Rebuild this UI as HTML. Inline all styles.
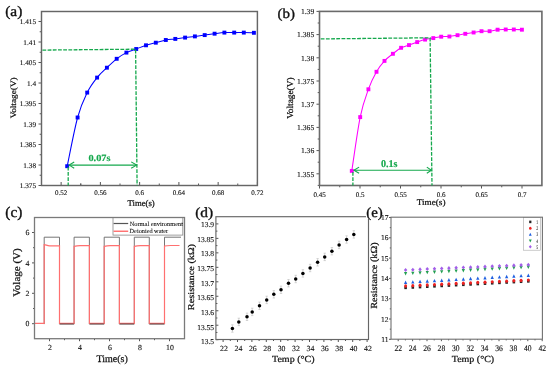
<!DOCTYPE html>
<html><head><meta charset="utf-8"><style>
html,body{margin:0;padding:0;background:#fff;}
svg{display:block;}
text{font-family:"Liberation Serif", "Times New Roman", serif;text-rendering:geometricPrecision;}
</style></head><body>
<svg width="550" height="367" viewBox="0 0 550 367">
<rect width="550" height="367" fill="#fff"/>
<line x1="38.5" y1="185.5" x2="41.5" y2="185.5" stroke="#555" stroke-width="1" />
<text x="36" y="188.1" font-size="7.25" text-anchor="end" fill="#111" stroke="#111" stroke-width="0.12" font-weight="normal" >1.375</text>
<line x1="39.7" y1="175.25" x2="41.5" y2="175.25" stroke="#555" stroke-width="1" />
<line x1="38.5" y1="165" x2="41.5" y2="165" stroke="#555" stroke-width="1" />
<text x="36" y="167.6" font-size="7.25" text-anchor="end" fill="#111" stroke="#111" stroke-width="0.12" font-weight="normal" >1.38</text>
<line x1="39.7" y1="154.75" x2="41.5" y2="154.75" stroke="#555" stroke-width="1" />
<line x1="38.5" y1="144.5" x2="41.5" y2="144.5" stroke="#555" stroke-width="1" />
<text x="36" y="147.1" font-size="7.25" text-anchor="end" fill="#111" stroke="#111" stroke-width="0.12" font-weight="normal" >1.385</text>
<line x1="39.7" y1="134.25" x2="41.5" y2="134.25" stroke="#555" stroke-width="1" />
<line x1="38.5" y1="124" x2="41.5" y2="124" stroke="#555" stroke-width="1" />
<text x="36" y="126.6" font-size="7.25" text-anchor="end" fill="#111" stroke="#111" stroke-width="0.12" font-weight="normal" >1.39</text>
<line x1="39.7" y1="113.75" x2="41.5" y2="113.75" stroke="#555" stroke-width="1" />
<line x1="38.5" y1="103.5" x2="41.5" y2="103.5" stroke="#555" stroke-width="1" />
<text x="36" y="106.1" font-size="7.25" text-anchor="end" fill="#111" stroke="#111" stroke-width="0.12" font-weight="normal" >1.395</text>
<line x1="39.7" y1="93.25" x2="41.5" y2="93.25" stroke="#555" stroke-width="1" />
<line x1="38.5" y1="83" x2="41.5" y2="83" stroke="#555" stroke-width="1" />
<text x="36" y="85.6" font-size="7.25" text-anchor="end" fill="#111" stroke="#111" stroke-width="0.12" font-weight="normal" >1.4</text>
<line x1="39.7" y1="72.75" x2="41.5" y2="72.75" stroke="#555" stroke-width="1" />
<line x1="38.5" y1="62.5" x2="41.5" y2="62.5" stroke="#555" stroke-width="1" />
<text x="36" y="65.1" font-size="7.25" text-anchor="end" fill="#111" stroke="#111" stroke-width="0.12" font-weight="normal" >1.405</text>
<line x1="39.7" y1="52.25" x2="41.5" y2="52.25" stroke="#555" stroke-width="1" />
<line x1="38.5" y1="42" x2="41.5" y2="42" stroke="#555" stroke-width="1" />
<text x="36" y="44.6" font-size="7.25" text-anchor="end" fill="#111" stroke="#111" stroke-width="0.12" font-weight="normal" >1.41</text>
<line x1="39.7" y1="31.75" x2="41.5" y2="31.75" stroke="#555" stroke-width="1" />
<line x1="38.5" y1="21.5" x2="41.5" y2="21.5" stroke="#555" stroke-width="1" />
<text x="36" y="24.1" font-size="7.25" text-anchor="end" fill="#111" stroke="#111" stroke-width="0.12" font-weight="normal" >1.415</text>
<line x1="61.13" y1="185.5" x2="61.13" y2="182" stroke="#555" stroke-width="1" />
<text x="61.13" y="195" font-size="7" text-anchor="middle" fill="#111" stroke="#111" stroke-width="0.12" font-weight="normal" >0.52</text>
<line x1="100.38" y1="185.5" x2="100.38" y2="182" stroke="#555" stroke-width="1" />
<text x="100.38" y="195" font-size="7" text-anchor="middle" fill="#111" stroke="#111" stroke-width="0.12" font-weight="normal" >0.56</text>
<line x1="139.64" y1="185.5" x2="139.64" y2="182" stroke="#555" stroke-width="1" />
<text x="139.64" y="195" font-size="7" text-anchor="middle" fill="#111" stroke="#111" stroke-width="0.12" font-weight="normal" >0.6</text>
<line x1="178.9" y1="185.5" x2="178.9" y2="182" stroke="#555" stroke-width="1" />
<text x="178.9" y="195" font-size="7" text-anchor="middle" fill="#111" stroke="#111" stroke-width="0.12" font-weight="normal" >0.64</text>
<line x1="218.15" y1="185.5" x2="218.15" y2="182" stroke="#555" stroke-width="1" />
<text x="218.15" y="195" font-size="7" text-anchor="middle" fill="#111" stroke="#111" stroke-width="0.12" font-weight="normal" >0.68</text>
<line x1="257.41" y1="185.5" x2="257.41" y2="182" stroke="#555" stroke-width="1" />
<text x="257.41" y="195" font-size="7" text-anchor="middle" fill="#111" stroke="#111" stroke-width="0.12" font-weight="normal" >0.72</text>
<line x1="80.76" y1="185.5" x2="80.76" y2="183.5" stroke="#555" stroke-width="1" />
<line x1="120.01" y1="185.5" x2="120.01" y2="183.5" stroke="#555" stroke-width="1" />
<line x1="159.27" y1="185.5" x2="159.27" y2="183.5" stroke="#555" stroke-width="1" />
<line x1="198.52" y1="185.5" x2="198.52" y2="183.5" stroke="#555" stroke-width="1" />
<line x1="237.78" y1="185.5" x2="237.78" y2="183.5" stroke="#555" stroke-width="1" />
<line x1="80.76" y1="185.5" x2="80.76" y2="183.5" stroke="#555" stroke-width="1" />
<rect x="41.5" y="11.5" width="215.9" height="174" fill="none" stroke="#666" stroke-width="1.45"/>
<text transform="translate(127.49,205.91) scale(0.966,0.972)" font-size="9" fill="#111" stroke="#111" stroke-width="0.25" font-weight="normal">Time(s)</text>
<text transform="translate(15.69,118.36) scale(0.900,1.031) rotate(-90)" font-size="9" fill="#111" stroke="#111" stroke-width="0.25" font-weight="normal">Voltage(V)</text>
<text transform="translate(5.25,16.25) scale(1.099,1.043)" font-size="14" fill="#111" stroke="#111" stroke-width="0.35" font-weight="normal">(a)</text>
<path d="M67.2,166.2 C68.93,158.08 74.27,129.77 77.6,117.5 C80.93,105.23 83.95,99.25 87.2,92.6 C90.45,85.95 93.82,81.75 97.1,77.6 C100.38,73.45 103.63,70.83 106.9,67.7 C110.17,64.57 113.45,61.32 116.7,58.8 C119.95,56.28 123.15,54.23 126.4,52.6 C129.65,50.97 132.93,50.22 136.2,49 C139.47,47.78 142.73,46.35 146,45.3 C149.27,44.25 152.5,43.58 155.8,42.7 C159.1,41.82 162.55,40.63 165.8,40 C169.05,39.37 172.08,39.3 175.3,38.9 C178.52,38.5 181.83,38.02 185.1,37.6 C188.37,37.18 191.63,36.82 194.9,36.4 C198.17,35.98 201.42,35.55 204.7,35.1 C207.98,34.65 211.32,34.12 214.6,33.7 C217.88,33.28 221.13,32.78 224.4,32.6 C227.67,32.42 230.97,32.6 234.2,32.6 C237.43,32.6 240.52,32.57 243.8,32.6 C247.08,32.63 252.22,32.77 253.9,32.8" stroke="#0000ff" stroke-width="1.05" fill="none"/>
<rect x="65.25" y="164.25" width="3.9" height="3.9" fill="#0000ff"/>
<rect x="75.65" y="115.55" width="3.9" height="3.9" fill="#0000ff"/>
<rect x="85.25" y="90.65" width="3.9" height="3.9" fill="#0000ff"/>
<rect x="95.15" y="75.65" width="3.9" height="3.9" fill="#0000ff"/>
<rect x="104.95" y="65.75" width="3.9" height="3.9" fill="#0000ff"/>
<rect x="114.75" y="56.85" width="3.9" height="3.9" fill="#0000ff"/>
<rect x="124.45" y="50.65" width="3.9" height="3.9" fill="#0000ff"/>
<rect x="134.25" y="47.05" width="3.9" height="3.9" fill="#0000ff"/>
<rect x="144.05" y="43.35" width="3.9" height="3.9" fill="#0000ff"/>
<rect x="153.85" y="40.75" width="3.9" height="3.9" fill="#0000ff"/>
<rect x="163.85" y="38.05" width="3.9" height="3.9" fill="#0000ff"/>
<rect x="173.35" y="36.95" width="3.9" height="3.9" fill="#0000ff"/>
<rect x="183.15" y="35.65" width="3.9" height="3.9" fill="#0000ff"/>
<rect x="192.95" y="34.45" width="3.9" height="3.9" fill="#0000ff"/>
<rect x="202.75" y="33.15" width="3.9" height="3.9" fill="#0000ff"/>
<rect x="212.65" y="31.75" width="3.9" height="3.9" fill="#0000ff"/>
<rect x="222.45" y="30.65" width="3.9" height="3.9" fill="#0000ff"/>
<rect x="232.25" y="30.65" width="3.9" height="3.9" fill="#0000ff"/>
<rect x="241.85" y="30.65" width="3.9" height="3.9" fill="#0000ff"/>
<rect x="251.95" y="30.85" width="3.9" height="3.9" fill="#0000ff"/>
<g stroke="#14a84c" stroke-width="1.3" stroke-dasharray="3.8 1.4" fill="none">
<path d="M42.4,50.1 L135.6,49.2 L137.1,185.5"/>
<path d="M68.2,166.8 V185.5"/>
</g>
<g stroke="#14a84c" stroke-width="1.1" fill="none"><path d="M69.2,165.1 H136.6"/><path d="M74.2,162 L69.2,165.1 L74.2,168.2"/><path d="M131.2,161.9 L136.6,165.1 L131.2,168.3"/></g>
<text transform="translate(88.42,160.55) scale(1.031,0.944)" font-size="10" fill="#14a84c" stroke="#14a84c" stroke-width="0.15" font-weight="bold">0.07s</text>
<line x1="316.5" y1="11.4" x2="319.5" y2="11.4" stroke="#555" stroke-width="1" />
<text x="314.2" y="14.1" font-size="7.6" text-anchor="end" fill="#111" stroke="#111" stroke-width="0.12" font-weight="normal" >1.39</text>
<line x1="317.7" y1="23" x2="319.5" y2="23" stroke="#555" stroke-width="1" />
<line x1="316.5" y1="34.6" x2="319.5" y2="34.6" stroke="#555" stroke-width="1" />
<text x="314.2" y="37.3" font-size="7.6" text-anchor="end" fill="#111" stroke="#111" stroke-width="0.12" font-weight="normal" >1.385</text>
<line x1="317.7" y1="46.2" x2="319.5" y2="46.2" stroke="#555" stroke-width="1" />
<line x1="316.5" y1="57.8" x2="319.5" y2="57.8" stroke="#555" stroke-width="1" />
<text x="314.2" y="60.5" font-size="7.6" text-anchor="end" fill="#111" stroke="#111" stroke-width="0.12" font-weight="normal" >1.38</text>
<line x1="317.7" y1="69.4" x2="319.5" y2="69.4" stroke="#555" stroke-width="1" />
<line x1="316.5" y1="81" x2="319.5" y2="81" stroke="#555" stroke-width="1" />
<text x="314.2" y="83.7" font-size="7.6" text-anchor="end" fill="#111" stroke="#111" stroke-width="0.12" font-weight="normal" >1.375</text>
<line x1="317.7" y1="92.6" x2="319.5" y2="92.6" stroke="#555" stroke-width="1" />
<line x1="316.5" y1="104.2" x2="319.5" y2="104.2" stroke="#555" stroke-width="1" />
<text x="314.2" y="106.9" font-size="7.6" text-anchor="end" fill="#111" stroke="#111" stroke-width="0.12" font-weight="normal" >1.37</text>
<line x1="317.7" y1="115.8" x2="319.5" y2="115.8" stroke="#555" stroke-width="1" />
<line x1="316.5" y1="127.4" x2="319.5" y2="127.4" stroke="#555" stroke-width="1" />
<text x="314.2" y="130.1" font-size="7.6" text-anchor="end" fill="#111" stroke="#111" stroke-width="0.12" font-weight="normal" >1.365</text>
<line x1="317.7" y1="139" x2="319.5" y2="139" stroke="#555" stroke-width="1" />
<line x1="316.5" y1="150.6" x2="319.5" y2="150.6" stroke="#555" stroke-width="1" />
<text x="314.2" y="153.3" font-size="7.6" text-anchor="end" fill="#111" stroke="#111" stroke-width="0.12" font-weight="normal" >1.36</text>
<line x1="317.7" y1="162.2" x2="319.5" y2="162.2" stroke="#555" stroke-width="1" />
<line x1="316.5" y1="173.8" x2="319.5" y2="173.8" stroke="#555" stroke-width="1" />
<text x="314.2" y="176.5" font-size="7.6" text-anchor="end" fill="#111" stroke="#111" stroke-width="0.12" font-weight="normal" >1.355</text>
<line x1="317.7" y1="185.4" x2="319.5" y2="185.4" stroke="#555" stroke-width="1" />
<line x1="319.5" y1="185.5" x2="319.5" y2="188.5" stroke="#555" stroke-width="1" />
<text x="319.5" y="197" font-size="7" text-anchor="middle" fill="#111" stroke="#111" stroke-width="0.12" font-weight="normal" >0.45</text>
<line x1="339.75" y1="185.5" x2="339.75" y2="187.3" stroke="#555" stroke-width="1" />
<line x1="360" y1="185.5" x2="360" y2="188.5" stroke="#555" stroke-width="1" />
<text x="360" y="197" font-size="7" text-anchor="middle" fill="#111" stroke="#111" stroke-width="0.12" font-weight="normal" >0.5</text>
<line x1="380.25" y1="185.5" x2="380.25" y2="187.3" stroke="#555" stroke-width="1" />
<line x1="400.5" y1="185.5" x2="400.5" y2="188.5" stroke="#555" stroke-width="1" />
<text x="400.5" y="197" font-size="7" text-anchor="middle" fill="#111" stroke="#111" stroke-width="0.12" font-weight="normal" >0.55</text>
<line x1="420.75" y1="185.5" x2="420.75" y2="187.3" stroke="#555" stroke-width="1" />
<line x1="441" y1="185.5" x2="441" y2="188.5" stroke="#555" stroke-width="1" />
<text x="441" y="197" font-size="7" text-anchor="middle" fill="#111" stroke="#111" stroke-width="0.12" font-weight="normal" >0.6</text>
<line x1="461.25" y1="185.5" x2="461.25" y2="187.3" stroke="#555" stroke-width="1" />
<line x1="481.5" y1="185.5" x2="481.5" y2="188.5" stroke="#555" stroke-width="1" />
<text x="481.5" y="197" font-size="7" text-anchor="middle" fill="#111" stroke="#111" stroke-width="0.12" font-weight="normal" >0.65</text>
<line x1="501.75" y1="185.5" x2="501.75" y2="187.3" stroke="#555" stroke-width="1" />
<line x1="522" y1="185.5" x2="522" y2="188.5" stroke="#555" stroke-width="1" />
<text x="522" y="197" font-size="7" text-anchor="middle" fill="#111" stroke="#111" stroke-width="0.12" font-weight="normal" >0.7</text>
<rect x="319.5" y="11.4" width="222.4" height="174.1" fill="none" stroke="#6a6a6a" stroke-width="1.6"/>
<text transform="translate(416.69,205.13) scale(1.022,0.963)" font-size="9" fill="#111" stroke="#111" stroke-width="0.25" font-weight="normal">Time(s)</text>
<text transform="translate(293.45,118.71) scale(1.000,1.035) rotate(-90)" font-size="9" fill="#111" stroke="#111" stroke-width="0.25" font-weight="normal">Voltage(V)</text>
<text transform="translate(277.47,17.67) scale(1.066,0.988)" font-size="14" fill="#111" stroke="#111" stroke-width="0.35" font-weight="normal">(b)</text>
<path d="M351.8,170.9 C353.2,161.93 357.43,130.7 360.2,117.1 C362.97,103.5 365.68,96.85 368.4,89.3 C371.12,81.75 373.82,76.53 376.5,71.8 C379.18,67.07 381.77,63.9 384.5,60.9 C387.23,57.9 390.13,55.98 392.9,53.8 C395.67,51.62 398.42,49.25 401.1,47.8 C403.78,46.35 406.32,46.05 409,45.1 C411.68,44.15 414.52,43.02 417.2,42.1 C419.88,41.18 422.42,40.27 425.1,39.6 C427.78,38.93 430.62,38.58 433.3,38.1 C435.98,37.62 438.52,36.97 441.2,36.7 C443.88,36.43 446.68,36.75 449.4,36.5 C452.12,36.25 454.85,35.65 457.5,35.2 C460.15,34.75 462.62,34.25 465.3,33.8 C467.98,33.35 470.9,32.93 473.6,32.5 C476.3,32.07 478.83,31.42 481.5,31.2 C484.17,30.98 486.92,31.45 489.6,31.2 C492.28,30.95 494.92,29.98 497.6,29.7 C500.28,29.42 503,29.53 505.7,29.5 C508.4,29.47 511.1,29.47 513.8,29.5 C516.5,29.53 520.55,29.67 521.9,29.7" stroke="#ff00ff" stroke-width="1.05" fill="none"/>
<rect x="349.85" y="168.95" width="3.9" height="3.9" fill="#ff00ff"/>
<rect x="358.25" y="115.15" width="3.9" height="3.9" fill="#ff00ff"/>
<rect x="366.45" y="87.35" width="3.9" height="3.9" fill="#ff00ff"/>
<rect x="374.55" y="69.85" width="3.9" height="3.9" fill="#ff00ff"/>
<rect x="382.55" y="58.95" width="3.9" height="3.9" fill="#ff00ff"/>
<rect x="390.95" y="51.85" width="3.9" height="3.9" fill="#ff00ff"/>
<rect x="399.15" y="45.85" width="3.9" height="3.9" fill="#ff00ff"/>
<rect x="407.05" y="43.15" width="3.9" height="3.9" fill="#ff00ff"/>
<rect x="415.25" y="40.15" width="3.9" height="3.9" fill="#ff00ff"/>
<rect x="423.15" y="37.65" width="3.9" height="3.9" fill="#ff00ff"/>
<rect x="431.35" y="36.15" width="3.9" height="3.9" fill="#ff00ff"/>
<rect x="439.25" y="34.75" width="3.9" height="3.9" fill="#ff00ff"/>
<rect x="447.45" y="34.55" width="3.9" height="3.9" fill="#ff00ff"/>
<rect x="455.55" y="33.25" width="3.9" height="3.9" fill="#ff00ff"/>
<rect x="463.35" y="31.85" width="3.9" height="3.9" fill="#ff00ff"/>
<rect x="471.65" y="30.55" width="3.9" height="3.9" fill="#ff00ff"/>
<rect x="479.55" y="29.25" width="3.9" height="3.9" fill="#ff00ff"/>
<rect x="487.65" y="29.25" width="3.9" height="3.9" fill="#ff00ff"/>
<rect x="495.65" y="27.75" width="3.9" height="3.9" fill="#ff00ff"/>
<rect x="503.75" y="27.55" width="3.9" height="3.9" fill="#ff00ff"/>
<rect x="511.85" y="27.55" width="3.9" height="3.9" fill="#ff00ff"/>
<rect x="519.95" y="27.75" width="3.9" height="3.9" fill="#ff00ff"/>
<g stroke="#14a84c" stroke-width="1.3" stroke-dasharray="3.8 1.4" fill="none">
<path d="M320.7,38.9 L430.1,37.8 L432.0,185.5"/>
<path d="M352.9,172 V185.5"/>
</g>
<g stroke="#14a84c" stroke-width="1.1" fill="none"><path d="M353.9,170.2 H431.4"/><path d="M359.1,167.1 L353.9,170.2 L359.1,173.3"/><path d="M426.8,167.1 L431.4,170.2 L426.8,173.2"/></g>
<text transform="translate(380.89,166.59) scale(1.013,1.039)" font-size="10" fill="#14a84c" stroke="#14a84c" stroke-width="0.15" font-weight="bold">0.1s</text>
<line x1="32" y1="323.7" x2="34.5" y2="323.7" stroke="#555" stroke-width="1" />
<text x="27.5" y="326.4" font-size="7.8" text-anchor="middle" fill="#111" stroke="#111" stroke-width="0.12" font-weight="normal" >0</text>
<line x1="32" y1="293.3" x2="34.5" y2="293.3" stroke="#555" stroke-width="1" />
<text x="27.5" y="296" font-size="7.8" text-anchor="middle" fill="#111" stroke="#111" stroke-width="0.12" font-weight="normal" >2</text>
<line x1="32" y1="262.9" x2="34.5" y2="262.9" stroke="#555" stroke-width="1" />
<text x="27.5" y="265.6" font-size="7.8" text-anchor="middle" fill="#111" stroke="#111" stroke-width="0.12" font-weight="normal" >4</text>
<line x1="32" y1="232.5" x2="34.5" y2="232.5" stroke="#555" stroke-width="1" />
<text x="27.5" y="235.2" font-size="7.8" text-anchor="middle" fill="#111" stroke="#111" stroke-width="0.12" font-weight="normal" >6</text>
<line x1="33" y1="308.5" x2="34.5" y2="308.5" stroke="#555" stroke-width="1" />
<line x1="33" y1="278.1" x2="34.5" y2="278.1" stroke="#555" stroke-width="1" />
<line x1="33" y1="247.7" x2="34.5" y2="247.7" stroke="#555" stroke-width="1" />
<line x1="49.5" y1="338.7" x2="49.5" y2="341.2" stroke="#555" stroke-width="1" />
<text x="49.9" y="350.4" font-size="7.8" text-anchor="middle" fill="#111" stroke="#111" stroke-width="0.12" font-weight="normal" >2</text>
<line x1="79.5" y1="338.7" x2="79.5" y2="341.2" stroke="#555" stroke-width="1" />
<text x="79.9" y="350.4" font-size="7.8" text-anchor="middle" fill="#111" stroke="#111" stroke-width="0.12" font-weight="normal" >4</text>
<line x1="109.5" y1="338.7" x2="109.5" y2="341.2" stroke="#555" stroke-width="1" />
<text x="109.9" y="350.4" font-size="7.8" text-anchor="middle" fill="#111" stroke="#111" stroke-width="0.12" font-weight="normal" >6</text>
<line x1="139.5" y1="338.7" x2="139.5" y2="341.2" stroke="#555" stroke-width="1" />
<text x="139.9" y="350.4" font-size="7.8" text-anchor="middle" fill="#111" stroke="#111" stroke-width="0.12" font-weight="normal" >8</text>
<line x1="169.5" y1="338.7" x2="169.5" y2="341.2" stroke="#555" stroke-width="1" />
<text x="169.9" y="350.4" font-size="7.8" text-anchor="middle" fill="#111" stroke="#111" stroke-width="0.12" font-weight="normal" >10</text>
<line x1="64.5" y1="338.7" x2="64.5" y2="340.2" stroke="#555" stroke-width="1" />
<line x1="94.5" y1="338.7" x2="94.5" y2="340.2" stroke="#555" stroke-width="1" />
<line x1="124.5" y1="338.7" x2="124.5" y2="340.2" stroke="#555" stroke-width="1" />
<line x1="154.5" y1="338.7" x2="154.5" y2="340.2" stroke="#555" stroke-width="1" />
<path d="M44.2,324.1 H44.2 V237.2 H59.5 V324.1 H74.1 V237.2 H89.4 V324.1 H104.2 V237.2 H119.4 V324.1 H134.3 V237.2 H149.3 V324.1 H164.5 V237.2 H181" stroke="#666" stroke-width="0.9" fill="none"/>
<path d="M34.5,323.4 H44.2 V244.6 C46,244.6 47,245.8 49.5,245.8 H59.5 V323.4 H74.1 V246.3 C76.1,245.8 78.1,245.6 80.1,245.6 H89.4 V323.4 H104.2 V246.3 C106.2,245.8 108.2,245.6 110.2,245.6 H119.4 V323.4 H134.3 V246.3 C136.3,245.8 138.3,245.6 140.3,245.6 H149.3 V323.4 H164.5 V246 C166.5,245.6 168.5,245.5 170.5,245.5 H179.5" stroke="#ff7070" stroke-width="1.2" fill="none"/>
<rect x="113" y="217.5" width="69.8" height="17.6" fill="#fff" stroke="#888" stroke-width="0.8"/>
<line x1="113.6" y1="223.5" x2="128.2" y2="223.5" stroke="#555" stroke-width="1.2" />
<line x1="113.6" y1="231.2" x2="128.2" y2="231.2" stroke="#ff4444" stroke-width="1.1" />
<text transform="translate(129.68,225.71) scale(1.012,1.000)" font-size="6.3" fill="#111" stroke="#111" stroke-width="0.08" font-weight="normal">Normal environment</text>
<text transform="translate(129.59,232.80) scale(0.995,1.000)" font-size="6.3" fill="#111" stroke="#111" stroke-width="0.08" font-weight="normal">Deionied water</text>
<rect x="34.5" y="217.5" width="150" height="121.2" fill="none" stroke="#7a7a7a" stroke-width="1.3"/>
<line x1="59.8" y1="323.8" x2="73.8" y2="323.8" stroke="#7a4a4a" stroke-width="0.9" />
<line x1="89.7" y1="323.8" x2="103.9" y2="323.8" stroke="#7a4a4a" stroke-width="0.9" />
<line x1="119.7" y1="323.8" x2="134" y2="323.8" stroke="#7a4a4a" stroke-width="0.9" />
<line x1="149.6" y1="323.8" x2="164.2" y2="323.8" stroke="#7a4a4a" stroke-width="0.9" />
<text transform="translate(96.49,362.02) scale(1.001,1.008)" font-size="10" fill="#111" stroke="#111" stroke-width="0.25" font-weight="normal">Time(s)</text>
<text transform="translate(20.02,296.68) scale(1.008,1.100) rotate(-90)" font-size="10" fill="#111" stroke="#111" stroke-width="0.25" font-weight="normal">Volage (V)</text>
<text transform="translate(5.31,216.88) scale(1.095,1.070)" font-size="14" fill="#111" stroke="#111" stroke-width="0.35" font-weight="normal">(c)</text>
<line x1="215.9" y1="223.9" x2="218.4" y2="223.9" stroke="#555" stroke-width="1" />
<text x="214.1" y="227.05" font-size="7.5" text-anchor="end" fill="#111" stroke="#111" stroke-width="0.12" font-weight="normal" >13.9</text>
<line x1="215.9" y1="238.38" x2="218.4" y2="238.38" stroke="#555" stroke-width="1" />
<text x="214.1" y="241.69" font-size="7.5" text-anchor="end" fill="#111" stroke="#111" stroke-width="0.12" font-weight="normal" >13.85</text>
<line x1="215.9" y1="231.14" x2="217.4" y2="231.14" stroke="#555" stroke-width="1" />
<line x1="215.9" y1="252.85" x2="218.4" y2="252.85" stroke="#555" stroke-width="1" />
<text x="214.1" y="256.33" font-size="7.5" text-anchor="end" fill="#111" stroke="#111" stroke-width="0.12" font-weight="normal" >13.8</text>
<line x1="215.9" y1="245.61" x2="217.4" y2="245.61" stroke="#555" stroke-width="1" />
<line x1="215.9" y1="267.33" x2="218.4" y2="267.33" stroke="#555" stroke-width="1" />
<text x="214.1" y="270.97" font-size="7.5" text-anchor="end" fill="#111" stroke="#111" stroke-width="0.12" font-weight="normal" >13.75</text>
<line x1="215.9" y1="260.09" x2="217.4" y2="260.09" stroke="#555" stroke-width="1" />
<line x1="215.9" y1="281.8" x2="218.4" y2="281.8" stroke="#555" stroke-width="1" />
<text x="214.1" y="285.61" font-size="7.5" text-anchor="end" fill="#111" stroke="#111" stroke-width="0.12" font-weight="normal" >13.7</text>
<line x1="215.9" y1="274.56" x2="217.4" y2="274.56" stroke="#555" stroke-width="1" />
<line x1="215.9" y1="296.27" x2="218.4" y2="296.27" stroke="#555" stroke-width="1" />
<text x="214.1" y="300.25" font-size="7.5" text-anchor="end" fill="#111" stroke="#111" stroke-width="0.12" font-weight="normal" >13.65</text>
<line x1="215.9" y1="289.04" x2="217.4" y2="289.04" stroke="#555" stroke-width="1" />
<line x1="215.9" y1="310.75" x2="218.4" y2="310.75" stroke="#555" stroke-width="1" />
<text x="214.1" y="314.89" font-size="7.5" text-anchor="end" fill="#111" stroke="#111" stroke-width="0.12" font-weight="normal" >13.6</text>
<line x1="215.9" y1="303.51" x2="217.4" y2="303.51" stroke="#555" stroke-width="1" />
<line x1="215.9" y1="325.22" x2="218.4" y2="325.22" stroke="#555" stroke-width="1" />
<text x="214.1" y="329.53" font-size="7.5" text-anchor="end" fill="#111" stroke="#111" stroke-width="0.12" font-weight="normal" >13.55</text>
<line x1="215.9" y1="317.99" x2="217.4" y2="317.99" stroke="#555" stroke-width="1" />
<line x1="215.9" y1="339.7" x2="218.4" y2="339.7" stroke="#555" stroke-width="1" />
<text x="214.1" y="344.17" font-size="7.5" text-anchor="end" fill="#111" stroke="#111" stroke-width="0.12" font-weight="normal" >13.5</text>
<line x1="215.9" y1="332.46" x2="217.4" y2="332.46" stroke="#555" stroke-width="1" />
<line x1="223.1" y1="339.5" x2="223.1" y2="342" stroke="#555" stroke-width="1" />
<text x="224" y="350.9" font-size="7.8" text-anchor="middle" fill="#111" stroke="#111" stroke-width="0.12" font-weight="normal" >22</text>
<line x1="237.5" y1="339.5" x2="237.5" y2="342" stroke="#555" stroke-width="1" />
<text x="238.4" y="350.9" font-size="7.8" text-anchor="middle" fill="#111" stroke="#111" stroke-width="0.12" font-weight="normal" >24</text>
<line x1="251.9" y1="339.5" x2="251.9" y2="342" stroke="#555" stroke-width="1" />
<text x="252.8" y="350.9" font-size="7.8" text-anchor="middle" fill="#111" stroke="#111" stroke-width="0.12" font-weight="normal" >26</text>
<line x1="266.3" y1="339.5" x2="266.3" y2="342" stroke="#555" stroke-width="1" />
<text x="267.2" y="350.9" font-size="7.8" text-anchor="middle" fill="#111" stroke="#111" stroke-width="0.12" font-weight="normal" >28</text>
<line x1="280.7" y1="339.5" x2="280.7" y2="342" stroke="#555" stroke-width="1" />
<text x="281.6" y="350.9" font-size="7.8" text-anchor="middle" fill="#111" stroke="#111" stroke-width="0.12" font-weight="normal" >30</text>
<line x1="295.1" y1="339.5" x2="295.1" y2="342" stroke="#555" stroke-width="1" />
<text x="296" y="350.9" font-size="7.8" text-anchor="middle" fill="#111" stroke="#111" stroke-width="0.12" font-weight="normal" >32</text>
<line x1="309.5" y1="339.5" x2="309.5" y2="342" stroke="#555" stroke-width="1" />
<text x="310.4" y="350.9" font-size="7.8" text-anchor="middle" fill="#111" stroke="#111" stroke-width="0.12" font-weight="normal" >34</text>
<line x1="323.9" y1="339.5" x2="323.9" y2="342" stroke="#555" stroke-width="1" />
<text x="324.8" y="350.9" font-size="7.8" text-anchor="middle" fill="#111" stroke="#111" stroke-width="0.12" font-weight="normal" >36</text>
<line x1="338.3" y1="339.5" x2="338.3" y2="342" stroke="#555" stroke-width="1" />
<text x="339.2" y="350.9" font-size="7.8" text-anchor="middle" fill="#111" stroke="#111" stroke-width="0.12" font-weight="normal" >38</text>
<line x1="352.7" y1="339.5" x2="352.7" y2="342" stroke="#555" stroke-width="1" />
<text x="353.6" y="350.9" font-size="7.8" text-anchor="middle" fill="#111" stroke="#111" stroke-width="0.12" font-weight="normal" >40</text>
<line x1="367.1" y1="339.5" x2="367.1" y2="342" stroke="#555" stroke-width="1" />
<text x="368" y="350.9" font-size="7.8" text-anchor="middle" fill="#111" stroke="#111" stroke-width="0.12" font-weight="normal" >42</text>
<line x1="230.3" y1="339.5" x2="230.3" y2="341" stroke="#555" stroke-width="1" />
<line x1="244.7" y1="339.5" x2="244.7" y2="341" stroke="#555" stroke-width="1" />
<line x1="259.1" y1="339.5" x2="259.1" y2="341" stroke="#555" stroke-width="1" />
<line x1="273.5" y1="339.5" x2="273.5" y2="341" stroke="#555" stroke-width="1" />
<line x1="287.9" y1="339.5" x2="287.9" y2="341" stroke="#555" stroke-width="1" />
<line x1="302.3" y1="339.5" x2="302.3" y2="341" stroke="#555" stroke-width="1" />
<line x1="316.7" y1="339.5" x2="316.7" y2="341" stroke="#555" stroke-width="1" />
<line x1="331.1" y1="339.5" x2="331.1" y2="341" stroke="#555" stroke-width="1" />
<line x1="345.5" y1="339.5" x2="345.5" y2="341" stroke="#555" stroke-width="1" />
<line x1="359.9" y1="339.5" x2="359.9" y2="341" stroke="#555" stroke-width="1" />
<rect x="215.9" y="216.7" width="152.6" height="122.8" fill="none" stroke="#666" stroke-width="1.15"/>
<path d="M232.4,324.8 V332.2 M231.2,324.8 H233.6 M231.2,332.2 H233.6" stroke="#bbb" stroke-width="0.6"/>
<circle cx="232.4" cy="328.5" r="1.75" fill="#000"/>
<path d="M238.8,318.2 V325.6 M237.6,318.2 H240 M237.6,325.6 H240" stroke="#bbb" stroke-width="0.6"/>
<circle cx="238.8" cy="321.9" r="1.75" fill="#000"/>
<path d="M247,313.1 V320.5 M245.8,313.1 H248.2 M245.8,320.5 H248.2" stroke="#bbb" stroke-width="0.6"/>
<circle cx="247" cy="316.8" r="1.75" fill="#000"/>
<path d="M252.2,308.2 V315.6 M251,308.2 H253.4 M251,315.6 H253.4" stroke="#bbb" stroke-width="0.6"/>
<circle cx="252.2" cy="311.9" r="1.75" fill="#000"/>
<path d="M259.5,302.1 V309.5 M258.3,302.1 H260.7 M258.3,309.5 H260.7" stroke="#bbb" stroke-width="0.6"/>
<circle cx="259.5" cy="305.8" r="1.75" fill="#000"/>
<path d="M266.7,296.2 V303.6 M265.5,296.2 H267.9 M265.5,303.6 H267.9" stroke="#bbb" stroke-width="0.6"/>
<circle cx="266.7" cy="299.9" r="1.75" fill="#000"/>
<path d="M273.8,290.6 V298 M272.6,290.6 H275 M272.6,298 H275" stroke="#bbb" stroke-width="0.6"/>
<circle cx="273.8" cy="294.3" r="1.75" fill="#000"/>
<path d="M281,286.1 V293.5 M279.8,286.1 H282.2 M279.8,293.5 H282.2" stroke="#bbb" stroke-width="0.6"/>
<circle cx="281" cy="289.8" r="1.75" fill="#000"/>
<path d="M288.5,279.5 V286.9 M287.3,279.5 H289.7 M287.3,286.9 H289.7" stroke="#bbb" stroke-width="0.6"/>
<circle cx="288.5" cy="283.2" r="1.75" fill="#000"/>
<path d="M295.7,275.3 V282.7 M294.5,275.3 H296.9 M294.5,282.7 H296.9" stroke="#bbb" stroke-width="0.6"/>
<circle cx="295.7" cy="279" r="1.75" fill="#000"/>
<path d="M302.9,269.7 V277.1 M301.7,269.7 H304.1 M301.7,277.1 H304.1" stroke="#bbb" stroke-width="0.6"/>
<circle cx="302.9" cy="273.4" r="1.75" fill="#000"/>
<path d="M310.1,264.3 V271.7 M308.9,264.3 H311.3 M308.9,271.7 H311.3" stroke="#bbb" stroke-width="0.6"/>
<circle cx="310.1" cy="268" r="1.75" fill="#000"/>
<path d="M317.6,258.6 V266 M316.4,258.6 H318.8 M316.4,266 H318.8" stroke="#bbb" stroke-width="0.6"/>
<circle cx="317.6" cy="262.3" r="1.75" fill="#000"/>
<path d="M324.7,253.2 V260.6 M323.5,253.2 H325.9 M323.5,260.6 H325.9" stroke="#bbb" stroke-width="0.6"/>
<circle cx="324.7" cy="256.9" r="1.75" fill="#000"/>
<path d="M331.9,247.5 V254.9 M330.7,247.5 H333.1 M330.7,254.9 H333.1" stroke="#bbb" stroke-width="0.6"/>
<circle cx="331.9" cy="251.2" r="1.75" fill="#000"/>
<path d="M339.1,241.2 V248.6 M337.9,241.2 H340.3 M337.9,248.6 H340.3" stroke="#bbb" stroke-width="0.6"/>
<circle cx="339.1" cy="244.9" r="1.75" fill="#000"/>
<path d="M346.6,235.8 V243.2 M345.4,235.8 H347.8 M345.4,243.2 H347.8" stroke="#bbb" stroke-width="0.6"/>
<circle cx="346.6" cy="239.5" r="1.75" fill="#000"/>
<path d="M353.8,230.7 V238.1 M352.6,230.7 H355 M352.6,238.1 H355" stroke="#bbb" stroke-width="0.6"/>
<circle cx="353.8" cy="234.4" r="1.75" fill="#000"/>
<text transform="translate(271.99,362.19) scale(1.001,0.927)" font-size="10" fill="#111" stroke="#111" stroke-width="0.25" font-weight="normal">Temp (°C)</text>
<text transform="translate(193.90,310.15) scale(0.895,1.028) rotate(-90)" font-size="10" fill="#111" stroke="#111" stroke-width="0.25" font-weight="normal">Resistance (kΩ)</text>
<text transform="translate(195.18,217.00) scale(1.101,1.000)" font-size="14" fill="#111" stroke="#111" stroke-width="0.35" font-weight="normal">(d)</text>
<line x1="389" y1="339.3" x2="391" y2="339.3" stroke="#555" stroke-width="1" />
<text x="388.5" y="341.8" font-size="7.5" text-anchor="end" fill="#111" stroke="#111" stroke-width="0.12" font-weight="normal" >11</text>
<line x1="389.8" y1="329.15" x2="391" y2="329.15" stroke="#555" stroke-width="1" />
<line x1="389" y1="319" x2="391" y2="319" stroke="#555" stroke-width="1" />
<text x="388.5" y="321.5" font-size="7.5" text-anchor="end" fill="#111" stroke="#111" stroke-width="0.12" font-weight="normal" >12</text>
<line x1="389.8" y1="308.85" x2="391" y2="308.85" stroke="#555" stroke-width="1" />
<line x1="389" y1="298.7" x2="391" y2="298.7" stroke="#555" stroke-width="1" />
<text x="388.5" y="301.2" font-size="7.5" text-anchor="end" fill="#111" stroke="#111" stroke-width="0.12" font-weight="normal" >13</text>
<line x1="389.8" y1="288.55" x2="391" y2="288.55" stroke="#555" stroke-width="1" />
<line x1="389" y1="278.4" x2="391" y2="278.4" stroke="#555" stroke-width="1" />
<text x="388.5" y="280.9" font-size="7.5" text-anchor="end" fill="#111" stroke="#111" stroke-width="0.12" font-weight="normal" >14</text>
<line x1="389.8" y1="268.25" x2="391" y2="268.25" stroke="#555" stroke-width="1" />
<line x1="389" y1="258.1" x2="391" y2="258.1" stroke="#555" stroke-width="1" />
<text x="388.5" y="260.6" font-size="7.5" text-anchor="end" fill="#111" stroke="#111" stroke-width="0.12" font-weight="normal" >15</text>
<line x1="389.8" y1="247.95" x2="391" y2="247.95" stroke="#555" stroke-width="1" />
<line x1="389" y1="237.8" x2="391" y2="237.8" stroke="#555" stroke-width="1" />
<text x="388.5" y="240.3" font-size="7.5" text-anchor="end" fill="#111" stroke="#111" stroke-width="0.12" font-weight="normal" >16</text>
<line x1="389.8" y1="227.65" x2="391" y2="227.65" stroke="#555" stroke-width="1" />
<line x1="389" y1="217.5" x2="391" y2="217.5" stroke="#555" stroke-width="1" />
<text x="388.5" y="220" font-size="7.5" text-anchor="end" fill="#111" stroke="#111" stroke-width="0.12" font-weight="normal" >17</text>
<line x1="398.2" y1="339.2" x2="398.2" y2="341.2" stroke="#555" stroke-width="1" />
<text transform="translate(398.2,350.8) scale(1,1.12)" font-size="7.6" text-anchor="middle" fill="#111" stroke="#111" stroke-width="0.12">22</text>
<line x1="412.6" y1="339.2" x2="412.6" y2="341.2" stroke="#555" stroke-width="1" />
<text transform="translate(412.6,350.8) scale(1,1.12)" font-size="7.6" text-anchor="middle" fill="#111" stroke="#111" stroke-width="0.12">24</text>
<line x1="427" y1="339.2" x2="427" y2="341.2" stroke="#555" stroke-width="1" />
<text transform="translate(427,350.8) scale(1,1.12)" font-size="7.6" text-anchor="middle" fill="#111" stroke="#111" stroke-width="0.12">26</text>
<line x1="441.4" y1="339.2" x2="441.4" y2="341.2" stroke="#555" stroke-width="1" />
<text transform="translate(441.4,350.8) scale(1,1.12)" font-size="7.6" text-anchor="middle" fill="#111" stroke="#111" stroke-width="0.12">28</text>
<line x1="455.8" y1="339.2" x2="455.8" y2="341.2" stroke="#555" stroke-width="1" />
<text transform="translate(455.8,350.8) scale(1,1.12)" font-size="7.6" text-anchor="middle" fill="#111" stroke="#111" stroke-width="0.12">30</text>
<line x1="470.2" y1="339.2" x2="470.2" y2="341.2" stroke="#555" stroke-width="1" />
<text transform="translate(470.2,350.8) scale(1,1.12)" font-size="7.6" text-anchor="middle" fill="#111" stroke="#111" stroke-width="0.12">32</text>
<line x1="484.6" y1="339.2" x2="484.6" y2="341.2" stroke="#555" stroke-width="1" />
<text transform="translate(484.6,350.8) scale(1,1.12)" font-size="7.6" text-anchor="middle" fill="#111" stroke="#111" stroke-width="0.12">34</text>
<line x1="499" y1="339.2" x2="499" y2="341.2" stroke="#555" stroke-width="1" />
<text transform="translate(499,350.8) scale(1,1.12)" font-size="7.6" text-anchor="middle" fill="#111" stroke="#111" stroke-width="0.12">36</text>
<line x1="513.4" y1="339.2" x2="513.4" y2="341.2" stroke="#555" stroke-width="1" />
<text transform="translate(513.4,350.8) scale(1,1.12)" font-size="7.6" text-anchor="middle" fill="#111" stroke="#111" stroke-width="0.12">38</text>
<line x1="527.8" y1="339.2" x2="527.8" y2="341.2" stroke="#555" stroke-width="1" />
<text transform="translate(527.8,350.8) scale(1,1.12)" font-size="7.6" text-anchor="middle" fill="#111" stroke="#111" stroke-width="0.12">40</text>
<line x1="542.2" y1="339.2" x2="542.2" y2="341.2" stroke="#555" stroke-width="1" />
<text transform="translate(542.2,350.8) scale(1,1.12)" font-size="7.6" text-anchor="middle" fill="#111" stroke="#111" stroke-width="0.12">42</text>
<line x1="405.4" y1="339.2" x2="405.4" y2="340.4" stroke="#555" stroke-width="1" />
<line x1="419.8" y1="339.2" x2="419.8" y2="340.4" stroke="#555" stroke-width="1" />
<line x1="434.2" y1="339.2" x2="434.2" y2="340.4" stroke="#555" stroke-width="1" />
<line x1="448.6" y1="339.2" x2="448.6" y2="340.4" stroke="#555" stroke-width="1" />
<line x1="463" y1="339.2" x2="463" y2="340.4" stroke="#555" stroke-width="1" />
<line x1="477.4" y1="339.2" x2="477.4" y2="340.4" stroke="#555" stroke-width="1" />
<line x1="491.8" y1="339.2" x2="491.8" y2="340.4" stroke="#555" stroke-width="1" />
<line x1="506.2" y1="339.2" x2="506.2" y2="340.4" stroke="#555" stroke-width="1" />
<line x1="520.6" y1="339.2" x2="520.6" y2="340.4" stroke="#555" stroke-width="1" />
<line x1="535" y1="339.2" x2="535" y2="340.4" stroke="#555" stroke-width="1" />
<rect x="404.33" y="286.25" width="2.55" height="2.89" fill="#222"/>
<rect x="411.54" y="285.87" width="2.55" height="2.89" fill="#222"/>
<rect x="418.76" y="285.49" width="2.55" height="2.89" fill="#222"/>
<rect x="425.98" y="285.11" width="2.55" height="2.89" fill="#222"/>
<rect x="433.2" y="284.73" width="2.55" height="2.89" fill="#222"/>
<rect x="440.42" y="284.34" width="2.55" height="2.89" fill="#222"/>
<rect x="447.63" y="283.96" width="2.55" height="2.89" fill="#222"/>
<rect x="454.85" y="283.58" width="2.55" height="2.89" fill="#222"/>
<rect x="462.07" y="283.2" width="2.55" height="2.89" fill="#222"/>
<rect x="469.29" y="282.81" width="2.55" height="2.89" fill="#222"/>
<rect x="476.51" y="282.43" width="2.55" height="2.89" fill="#222"/>
<rect x="483.72" y="282.05" width="2.55" height="2.89" fill="#222"/>
<rect x="490.94" y="281.67" width="2.55" height="2.89" fill="#222"/>
<rect x="498.16" y="281.28" width="2.55" height="2.89" fill="#222"/>
<rect x="505.38" y="280.9" width="2.55" height="2.89" fill="#222"/>
<rect x="512.6" y="280.52" width="2.55" height="2.89" fill="#222"/>
<rect x="519.81" y="280.14" width="2.55" height="2.89" fill="#222"/>
<rect x="527.03" y="279.75" width="2.55" height="2.89" fill="#222"/>
<ellipse cx="405.6" cy="286" rx="1.5" ry="1.7" fill="#ee2222"/>
<ellipse cx="412.82" cy="285.65" rx="1.5" ry="1.7" fill="#ee2222"/>
<ellipse cx="420.04" cy="285.31" rx="1.5" ry="1.7" fill="#ee2222"/>
<ellipse cx="427.25" cy="284.96" rx="1.5" ry="1.7" fill="#ee2222"/>
<ellipse cx="434.47" cy="284.61" rx="1.5" ry="1.7" fill="#ee2222"/>
<ellipse cx="441.69" cy="284.26" rx="1.5" ry="1.7" fill="#ee2222"/>
<ellipse cx="448.91" cy="283.92" rx="1.5" ry="1.7" fill="#ee2222"/>
<ellipse cx="456.13" cy="283.57" rx="1.5" ry="1.7" fill="#ee2222"/>
<ellipse cx="463.34" cy="283.22" rx="1.5" ry="1.7" fill="#ee2222"/>
<ellipse cx="470.56" cy="282.88" rx="1.5" ry="1.7" fill="#ee2222"/>
<ellipse cx="477.78" cy="282.53" rx="1.5" ry="1.7" fill="#ee2222"/>
<ellipse cx="485" cy="282.18" rx="1.5" ry="1.7" fill="#ee2222"/>
<ellipse cx="492.22" cy="281.84" rx="1.5" ry="1.7" fill="#ee2222"/>
<ellipse cx="499.43" cy="281.49" rx="1.5" ry="1.7" fill="#ee2222"/>
<ellipse cx="506.65" cy="281.14" rx="1.5" ry="1.7" fill="#ee2222"/>
<ellipse cx="513.87" cy="280.79" rx="1.5" ry="1.7" fill="#ee2222"/>
<ellipse cx="521.09" cy="280.45" rx="1.5" ry="1.7" fill="#ee2222"/>
<ellipse cx="528.31" cy="280.1" rx="1.5" ry="1.7" fill="#ee2222"/>
<path d="M405.6,280.55 L407.25,283.94 L403.95,283.94Z" fill="#1f5fe0"/>
<path d="M412.82,280.13 L414.47,283.53 L411.17,283.53Z" fill="#1f5fe0"/>
<path d="M420.04,279.72 L421.69,283.12 L418.39,283.12Z" fill="#1f5fe0"/>
<path d="M427.25,279.31 L428.9,282.71 L425.6,282.71Z" fill="#1f5fe0"/>
<path d="M434.47,278.9 L436.12,282.3 L432.82,282.3Z" fill="#1f5fe0"/>
<path d="M441.69,278.49 L443.34,281.89 L440.04,281.89Z" fill="#1f5fe0"/>
<path d="M448.91,278.07 L450.56,281.47 L447.26,281.47Z" fill="#1f5fe0"/>
<path d="M456.13,277.66 L457.78,281.06 L454.48,281.06Z" fill="#1f5fe0"/>
<path d="M463.34,277.25 L464.99,280.65 L461.69,280.65Z" fill="#1f5fe0"/>
<path d="M470.56,276.84 L472.21,280.24 L468.91,280.24Z" fill="#1f5fe0"/>
<path d="M477.78,276.43 L479.43,279.83 L476.13,279.83Z" fill="#1f5fe0"/>
<path d="M485,276.02 L486.65,279.42 L483.35,279.42Z" fill="#1f5fe0"/>
<path d="M492.22,275.6 L493.87,279 L490.57,279Z" fill="#1f5fe0"/>
<path d="M499.43,275.19 L501.08,278.59 L497.78,278.59Z" fill="#1f5fe0"/>
<path d="M506.65,274.78 L508.3,278.18 L505,278.18Z" fill="#1f5fe0"/>
<path d="M513.87,274.37 L515.52,277.77 L512.22,277.77Z" fill="#1f5fe0"/>
<path d="M521.09,273.96 L522.74,277.36 L519.44,277.36Z" fill="#1f5fe0"/>
<path d="M528.31,273.55 L529.96,276.94 L526.66,276.94Z" fill="#1f5fe0"/>
<path d="M405.6,275.45 L407.25,272.06 L403.95,272.06Z" fill="#22a050"/>
<path d="M412.82,275.07 L414.47,271.67 L411.17,271.67Z" fill="#22a050"/>
<path d="M420.04,274.69 L421.69,271.29 L418.39,271.29Z" fill="#22a050"/>
<path d="M427.25,274.31 L428.9,270.91 L425.6,270.91Z" fill="#22a050"/>
<path d="M434.47,273.93 L436.12,270.53 L432.82,270.53Z" fill="#22a050"/>
<path d="M441.69,273.54 L443.34,270.14 L440.04,270.14Z" fill="#22a050"/>
<path d="M448.91,273.16 L450.56,269.76 L447.26,269.76Z" fill="#22a050"/>
<path d="M456.13,272.78 L457.78,269.38 L454.48,269.38Z" fill="#22a050"/>
<path d="M463.34,272.4 L464.99,269 L461.69,269Z" fill="#22a050"/>
<path d="M470.56,272.01 L472.21,268.61 L468.91,268.61Z" fill="#22a050"/>
<path d="M477.78,271.63 L479.43,268.23 L476.13,268.23Z" fill="#22a050"/>
<path d="M485,271.25 L486.65,267.85 L483.35,267.85Z" fill="#22a050"/>
<path d="M492.22,270.87 L493.87,267.47 L490.57,267.47Z" fill="#22a050"/>
<path d="M499.43,270.48 L501.08,267.08 L497.78,267.08Z" fill="#22a050"/>
<path d="M506.65,270.1 L508.3,266.7 L505,266.7Z" fill="#22a050"/>
<path d="M513.87,269.72 L515.52,266.32 L512.22,266.32Z" fill="#22a050"/>
<path d="M521.09,269.34 L522.74,265.94 L519.44,265.94Z" fill="#22a050"/>
<path d="M528.31,268.95 L529.96,265.56 L526.66,265.56Z" fill="#22a050"/>
<path d="M405.6,267.96 L407.33,270 L405.6,272.04 L403.88,270Z" fill="#a25ee8"/>
<path d="M412.82,267.65 L414.54,269.69 L412.82,271.73 L411.09,269.69Z" fill="#a25ee8"/>
<path d="M420.04,267.35 L421.76,269.39 L420.04,271.43 L418.31,269.39Z" fill="#a25ee8"/>
<path d="M427.25,267.04 L428.98,269.08 L427.25,271.12 L425.53,269.08Z" fill="#a25ee8"/>
<path d="M434.47,266.74 L436.2,268.78 L434.47,270.82 L432.75,268.78Z" fill="#a25ee8"/>
<path d="M441.69,266.43 L443.42,268.47 L441.69,270.51 L439.97,268.47Z" fill="#a25ee8"/>
<path d="M448.91,266.12 L450.63,268.16 L448.91,270.2 L447.18,268.16Z" fill="#a25ee8"/>
<path d="M456.13,265.82 L457.85,267.86 L456.13,269.9 L454.4,267.86Z" fill="#a25ee8"/>
<path d="M463.34,265.51 L465.07,267.55 L463.34,269.59 L461.62,267.55Z" fill="#a25ee8"/>
<path d="M470.56,265.21 L472.29,267.25 L470.56,269.29 L468.84,267.25Z" fill="#a25ee8"/>
<path d="M477.78,264.9 L479.51,266.94 L477.78,268.98 L476.06,266.94Z" fill="#a25ee8"/>
<path d="M485,264.6 L486.72,266.64 L485,268.68 L483.27,266.64Z" fill="#a25ee8"/>
<path d="M492.22,264.29 L493.94,266.33 L492.22,268.37 L490.49,266.33Z" fill="#a25ee8"/>
<path d="M499.43,263.98 L501.16,266.02 L499.43,268.06 L497.71,266.02Z" fill="#a25ee8"/>
<path d="M506.65,263.68 L508.38,265.72 L506.65,267.76 L504.93,265.72Z" fill="#a25ee8"/>
<path d="M513.87,263.37 L515.6,265.41 L513.87,267.45 L512.14,265.41Z" fill="#a25ee8"/>
<path d="M521.09,263.07 L522.81,265.11 L521.09,267.15 L519.36,265.11Z" fill="#a25ee8"/>
<path d="M528.31,262.76 L530.03,264.8 L528.31,266.84 L526.58,264.8Z" fill="#a25ee8"/>
<rect x="523.4" y="217.5" width="17.2" height="32.7" fill="#fff" stroke="#aaa" stroke-width="0.6"/>
<rect x="529.19" y="220.62" width="2.21" height="2.55" fill="#222"/>
<ellipse cx="530.3" cy="228.2" rx="1.3" ry="1.5" fill="#ee2222"/>
<path d="M530.3,232.68 L531.73,235.68 L528.87,235.68Z" fill="#1f5fe0"/>
<path d="M530.3,242.53 L531.73,239.53 L528.87,239.53Z" fill="#22a050"/>
<path d="M530.3,245 L531.79,246.8 L530.3,248.6 L528.8,246.8Z" fill="#a25ee8"/>
<text transform="translate(537.2,223.70) scale(0.5,1)" font-size="5.4" text-anchor="middle" fill="#222" stroke="#222" stroke-width="0.15">1</text>
<text transform="translate(537.2,229.80) scale(0.5,1)" font-size="5.4" text-anchor="middle" fill="#222" stroke="#222" stroke-width="0.15">2</text>
<text transform="translate(537.2,236.20) scale(0.5,1)" font-size="5.4" text-anchor="middle" fill="#222" stroke="#222" stroke-width="0.15">3</text>
<text transform="translate(537.2,242.60) scale(0.5,1)" font-size="5.4" text-anchor="middle" fill="#222" stroke="#222" stroke-width="0.15">4</text>
<text transform="translate(537.2,248.50) scale(0.5,1)" font-size="5.4" text-anchor="middle" fill="#222" stroke="#222" stroke-width="0.15">5</text>
<rect x="391" y="217.2" width="151.4" height="122" fill="none" stroke="#707070" stroke-width="1.1"/>
<text transform="translate(451.74,362.19) scale(1.000,0.927)" font-size="10" fill="#111" stroke="#111" stroke-width="0.25" font-weight="normal">Temp (°C)</text>
<text transform="translate(377.05,308.77) scale(0.927,1.031) rotate(-90)" font-size="10" fill="#111" stroke="#111" stroke-width="0.25" font-weight="normal">Resistance (kΩ)</text>
<rect x="366" y="207" width="15.6" height="12" fill="#fff"/>
<text transform="translate(366.27,217.17) scale(1.064,1.009)" font-size="14" fill="#111" stroke="#111" stroke-width="0.35" font-weight="normal">(e)</text>
</svg>
</body></html>
